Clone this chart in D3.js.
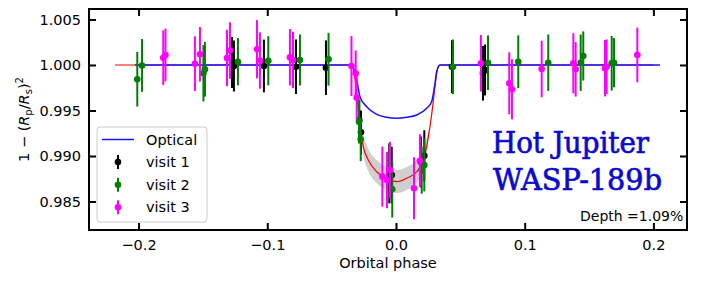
<!DOCTYPE html>
<html>
<head>
<meta charset="utf-8">
<script src="https://cdn.jsdelivr.net/npm/d3@7"></script>
<style>
  body { margin: 0; background: #fff; }
  svg { display: block; font-family: "DejaVu Sans", sans-serif; }
</style>
</head>
<body>
<svg id="chart" width="721" height="283"></svg>
<script>
// tick values
const xTicks = [-0.2, -0.1, 0.0, 0.1, 0.2];
const yTicks = [0.985, 0.990, 0.995, 1.000, 1.005];

// visit 1 (black)
const v1Phase = [-0.1274, -0.1259, -0.1026, -0.0777, -0.0544, -0.0285, -0.0272, -0.0052, -0.0033, 0.0194, 0.0220, 0.0435, 0.0676, 0.0692];
const v1Flux  = [1.00027, 0.99989, 0.99989, 0.99981, 0.99970, 0.99396, 0.99260, 0.98810, 0.98791, 0.98934, 0.99003, 0.99981, 0.99909, 0.99945];
const v1Err   = [0.0028, 0.0028, 0.0029, 0.0030, 0.0030, 0.0022, 0.0024, 0.0033, 0.0031, 0.0028, 0.0028, 0.0029, 0.0030, 0.0028];

// visit 2 (green)
const v2Phase = [-0.2010, -0.1973, -0.1496, -0.1484, -0.1228, -0.0992, -0.0746, -0.0524, -0.0287, -0.0274, -0.0029, 0.0200, 0.0220, 0.0443, 0.0715, 0.0950, 0.1183, 0.1435, 0.1455, 0.1676, 0.1694];
const v2Flux  = [0.99843, 0.99995, 0.99909, 0.99953, 1.00036, 1.00047, 1.00055, 1.00063, 0.99377, 0.99184, 0.98634, 0.98846, 0.98901, 0.99981, 1.00025, 1.00036, 1.00025, 1.00025, 1.00099, 1.00019, 1.00025];
const v2Err   = [0.0030, 0.0029, 0.0031, 0.0030, 0.0026, 0.0027, 0.0028, 0.0029, 0.0024, 0.0024, 0.0031, 0.0026, 0.0029, 0.0030, 0.0030, 0.0029, 0.0031, 0.0031, 0.0027, 0.0030, 0.0027];

// visit 3 (magenta)
const v3Phase = [-0.1808, -0.1791, -0.1562, -0.1523, -0.1313, -0.1290, -0.1080, -0.1057, -0.0824, -0.0800, -0.0346, -0.0313, -0.0305, -0.0106, -0.0070, -0.0047, 0.0140, 0.0186, 0.0660, 0.0880, 0.0901, 0.1132, 0.1378, 0.1396, 0.1624, 0.1637, 0.1875];
const v3Flux  = [1.00080, 1.00110, 1.00014, 1.00118, 1.00077, 1.00159, 1.00173, 1.00049, 1.00085, 1.00055, 0.99989, 0.99909, 0.99641, 0.98773, 0.98736, 0.98846, 0.98645, 0.98948, 1.00019, 0.99799, 0.99733, 0.99956, 1.00019, 0.99953, 0.99964, 0.99981, 1.00110];
const v3Err   = [0.0030, 0.0029, 0.0030, 0.0030, 0.0031, 0.0031, 0.0032, 0.0031, 0.0031, 0.0031, 0.0033, 0.0025, 0.0024, 0.0033, 0.0031, 0.0031, 0.0034, 0.0029, 0.0031, 0.0034, 0.0033, 0.0031, 0.0033, 0.0030, 0.0031, 0.0030, 0.0030];

// optical model (blue)
const optPhase = [-0.2028, -0.0344, -0.0305, -0.0280, -0.0228, -0.0150, -0.0072, 0.0005, 0.0083, 0.0161, 0.0239, 0.0277, 0.0303, 0.0316, 0.0342, 0.2051];
const optFlux  = [1.0000, 1.0000, 0.99835, 0.99652, 0.99542, 0.99458, 0.99425, 0.99414, 0.99425, 0.99451, 0.99524, 0.99597, 0.99799, 0.99926, 1.0000, 1.0000];

// fitted model (red)
const fitPhase = [-0.2183, -0.0344, -0.0305, -0.0287, -0.0272, -0.0254, -0.0215, -0.0150, -0.0072, 0.0005, 0.0083, 0.0161, 0.0212, 0.0243, 0.0264, 0.0285, 0.0303, 0.0321, 0.0342, 0.2000];
const fitFlux  = [1.0000, 1.0000, 0.99689, 0.99414, 0.99249, 0.99102, 0.98956, 0.98827, 0.98755, 0.98718, 0.98755, 0.98827, 0.98956, 0.99140, 0.99322, 0.99542, 0.99762, 0.99945, 1.0000, 1.0000];

// uncertainty band around the fit
const bandPhase = [-0.0280, -0.0250, -0.0215, -0.0150, -0.0072, 0.0005, 0.0083, 0.0161, 0.0212, 0.0243, 0.0260];
const bandHi    = [0.99341, 0.99209, 0.99077, 0.98956, 0.98879, 0.98846, 0.98879, 0.98956, 0.99077, 0.99231, 0.99308];
const bandLo    = [0.99341, 0.98989, 0.98835, 0.98703, 0.98626, 0.98593, 0.98626, 0.98703, 0.98835, 0.99055, 0.99264];

const legendLabels = ["Optical", "visit 1", "visit 2", "visit 3"];
const visitColors = ["black", "green", "magenta"];

const svg = d3.select("#chart");
const plotL = 89, plotR = 687, plotT = 9, plotB = 230;

const x = d3.scaleLinear().domain([-0.2385, 0.2261]).range([plotL, plotR]);
const y = d3.scaleLinear().domain([0.98187, 1.00615]).range([plotB, plotT]);

const plot = svg.append("g");

// band
const band = bandPhase.map((p, i) => ({p: p, lo: bandLo[i], hi: bandHi[i]}));
plot.append("path")
    .datum(band)
    .attr("fill", "#cfcfcf")
    .attr("d", d3.area().curve(d3.curveMonotoneX)
        .x(d => x(d.p)).y0(d => y(d.lo)).y1(d => y(d.hi)));

const line = d3.line().curve(d3.curveMonotoneX).x(d => x(d[0])).y(d => y(d[1]));

plot.append("path")
    .datum(d3.zip(fitPhase, fitFlux))
    .attr("fill", "none").attr("stroke", "red").attr("stroke-width", 1.2)
    .attr("d", line);

plot.append("path")
    .datum(d3.zip(optPhase, optFlux))
    .attr("fill", "none").attr("stroke", "#1515ff").attr("stroke-width", 1.5)
    .attr("d", line);

// data points with error bars
const visits = [
  d3.zip(v1Phase, v1Flux, v1Err),
  d3.zip(v2Phase, v2Flux, v2Err),
  d3.zip(v3Phase, v3Flux, v3Err)
];

visits.forEach((pts, k) => {
  let g = plot.append("g").attr("class", "visit" + (k + 1));
  g.selectAll("line")
      .data(pts)
      .enter()
      .append("line")
      .attr("x1", d => x(d[0])).attr("x2", d => x(d[0]))
      .attr("y1", d => y(d[1] - d[2])).attr("y2", d => y(d[1] + d[2]))
      .attr("stroke", visitColors[k]).attr("stroke-width", 2);
  g.selectAll("circle")
      .data(pts)
      .enter()
      .append("circle")
      .attr("cx", d => x(d[0])).attr("cy", d => y(d[1]))
      .attr("r", 3.3)
      .attr("fill", visitColors[k]);
});

// axes, ticks pointing in
const fmtX = d3.format(".1f"), fmtY = d3.format(".3f");

svg.append("g")
    .attr("transform", `translate(0,${plotB})`)
    .call(d3.axisBottom(x).tickValues(xTicks).tickSize(-7).tickPadding(10).tickFormat(fmtX));
svg.append("g")
    .attr("transform", `translate(0,${plotT})`)
    .call(d3.axisTop(x).tickValues(xTicks).tickSize(-7).tickFormat(""));
svg.append("g")
    .attr("transform", `translate(${plotL},0)`)
    .call(d3.axisLeft(y).tickValues(yTicks).tickSize(-7).tickPadding(8).tickFormat(fmtY));
svg.append("g")
    .attr("transform", `translate(${plotR},0)`)
    .call(d3.axisRight(y).tickValues(yTicks).tickSize(-7).tickFormat(""));

svg.selectAll(".domain").remove();
svg.selectAll(".tick line").attr("stroke", "black").attr("stroke-width", 2);
svg.selectAll(".tick text").attr("fill", "black")
    .style("font-family", "DejaVu Sans").style("font-size", "14.5px");

svg.append("rect")
    .attr("x", plotL).attr("y", plotT)
    .attr("width", plotR - plotL).attr("height", plotB - plotT)
    .attr("fill", "none").attr("stroke", "black").attr("stroke-width", 2);

// axis labels
svg.append("text")
    .attr("x", (plotL + plotR) / 2).attr("y", 268)
    .attr("text-anchor", "middle")
    .style("font-size", "14.5px")
    .text("Orbital phase");

let yl = svg.append("text")
    .attr("transform", `translate(29,${(plotT + plotB) / 2}) rotate(-90)`)
    .attr("text-anchor", "middle")
    .style("font-size", "14.5px");
yl.append("tspan").text("1 \u2212 (");
yl.append("tspan").style("font-style", "italic").text("R");
yl.append("tspan").attr("dy", 3).style("font-size", "10px").text("p");
yl.append("tspan").attr("dy", -3).text("/");
yl.append("tspan").style("font-style", "italic").text("R");
yl.append("tspan").attr("dy", 3).style("font-size", "10px").text("s");
yl.append("tspan").attr("dy", -3).text(")");
yl.append("tspan").attr("dy", -6).style("font-size", "10px").text("2");

// legend
let lg = svg.append("g");
lg.append("rect")
    .attr("x", 97).attr("y", 127).attr("width", 110).attr("height", 95).attr("rx", 3)
    .attr("fill", "white").attr("fill-opacity", 0.8)
    .attr("stroke", "#cccccc").attr("stroke-width", 1);
legendLabels.forEach((lab, i) => {
  let ly = 139.5 + i * 22.6;
  if (i == 0) {
    lg.append("line").attr("x1", 102).attr("x2", 134).attr("y1", ly).attr("y2", ly)
        .attr("stroke", "#1515ff").attr("stroke-width", 1.5);
  } else {
    lg.append("line").attr("x1", 118).attr("x2", 118).attr("y1", ly - 7).attr("y2", ly + 7)
        .attr("stroke", visitColors[i - 1]).attr("stroke-width", 2);
    lg.append("circle").attr("cx", 118).attr("cy", ly).attr("r", 3.3).attr("fill", visitColors[i - 1]);
  }
  lg.append("text").attr("x", 146).attr("y", ly + 5)
      .style("font-size", "14.5px").text(lab);
});

// annotations
svg.append("text")
    .attr("x", 492).attr("y", 152.5)
    .attr("textLength", 157).attr("lengthAdjust", "spacingAndGlyphs")
    .style("font-family", "DejaVu Serif").style("font-size", "29.5px")
    .attr("fill", "#0a0acd").attr("stroke", "#0a0acd").attr("stroke-width", 0.7)
    .text("Hot Jupiter");
svg.append("text")
    .attr("x", 493).attr("y", 189.5)
    .attr("textLength", 169).attr("lengthAdjust", "spacingAndGlyphs")
    .style("font-family", "DejaVu Serif").style("font-size", "29.5px")
    .attr("fill", "#0a0acd").attr("stroke", "#0a0acd").attr("stroke-width", 0.7)
    .text("WASP-189b");
svg.append("text")
    .attr("x", 580).attr("y", 220.5)
    .style("font-size", "14px")
    .text("Depth =1.09%");
</script>
</body>
</html>
